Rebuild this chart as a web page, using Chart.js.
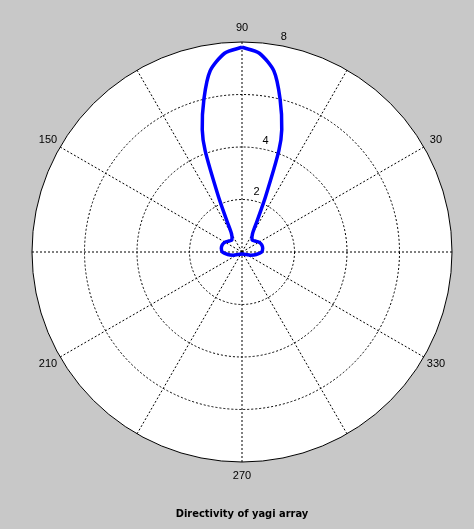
<!DOCTYPE html>
<html><head><meta charset="utf-8">
<script src="https://cdn.jsdelivr.net/npm/chart.js@4/dist/chart.umd.min.js"></script>
<style>html,body{margin:0;padding:0;background:#c8c8c8;}#w{width:474px;height:529px;position:relative}</style>
</head><body><div id="w"><canvas id="c"></canvas></div>
<script>
// offset from 90° (degrees) and directivity values (symmetric pattern)
const offsets = [0,5,10,14,18,20,23,26,30,40,50,60,70,80,90,100,110,120,135,150,165,180];
const directivity = [7.8,7.6,7.0,6.0,4.9,4.1,2.3,1.3,0.8,0.6,0.65,0.75,0.8,0.8,0.75,0.55,0.35,0.2,0.12,0.1,0.08,0.08];
const ringValues = [2,4,6,8];
const ringLabels = ['2','4','','8'];
const spokeAngles = [0,30,60,90,120,150,180,210,240,270,300,330];
const angleLabels = ['0','30','60','90','120','150','180','210','240','270','300','330'];
const shownAngleLabels = ['30','90','150','210','270','330'];
const chartTitle = 'Directivity of yagi array';

const pts = [];
const addPt=(deg,r)=>{const a=deg*Math.PI/180;pts.push({x:r*Math.cos(a),y:r*Math.sin(a)});};
for(let i=0;i<offsets.length;i++) addPt(90+offsets[i],directivity[i]);
for(let i=offsets.length-2;i>=0;i--) addPt(90-offsets[i],directivity[i]);

const polarGrid={id:'polarGrid',
 beforeDatasetsDraw(ch){const c=ch.ctx,xs=ch.scales.x,ys=ch.scales.y;
  const cx=xs.getPixelForValue(0),cy=ys.getPixelForValue(0);
  const R=xs.getPixelForValue(8)-cx;
  c.save();c.fillStyle='#fff';c.beginPath();c.arc(cx,cy,R,0,2*Math.PI);c.fill();
  c.strokeStyle='#000';c.lineWidth=1;c.setLineDash([2,2]);
  ringValues.slice(0,-1).forEach(v=>{c.beginPath();c.arc(cx,cy,xs.getPixelForValue(v)-cx,0,2*Math.PI);c.stroke();});
  spokeAngles.forEach(a=>{const t=a*Math.PI/180;c.beginPath();c.moveTo(cx,cy);c.lineTo(cx+R*Math.cos(t),cy-R*Math.sin(t));c.stroke();});
  c.setLineDash([]);c.beginPath();c.arc(cx,cy,R,0,2*Math.PI);c.stroke();
  c.restore();},
 afterDatasetsDraw(ch){const c=ch.ctx,xs=ch.scales.x,ys=ch.scales.y;
  const cx=xs.getPixelForValue(0),cy=ys.getPixelForValue(0);
  const R=xs.getPixelForValue(8)-cx;
  c.save();c.fillStyle='#000';c.font='11px "Liberation Sans", Arial, sans-serif';c.textAlign='center';c.textBaseline='middle';
  spokeAngles.forEach((a,i)=>{if(!shownAngleLabels.includes(angleLabels[i]))return;const t=a*Math.PI/180;const rr=R+14;
    c.fillText(angleLabels[i],cx+rr*Math.cos(t),cy-rr*Math.sin(t));});
  const la=80*Math.PI/180;
  ringValues.forEach((v,i)=>{if(!ringLabels[i])return;const rr=xs.getPixelForValue(v)-cx+8;
    c.fillText(ringLabels[i],cx+rr*Math.cos(la)+4,cy-rr*Math.sin(la));});
  c.font='bold 11px "Liberation Sans Narrow","DejaVu Sans Condensed",sans-serif';
  c.fillText(chartTitle,cx,514);
  c.restore();}
};
new Chart(document.getElementById('c'),{type:'scatter',
 data:{datasets:[{data:pts,showLine:true,borderColor:'#0000ff',borderWidth:3.5,pointRadius:0,fill:false,tension:0.25,clip:false}]},
 options:{responsive:true,maintainAspectRatio:false,animation:false,
  layout:{padding:{left:32,right:22,top:42,bottom:67}},
  plugins:{legend:{display:false},tooltip:{enabled:false}},
  scales:{x:{type:'linear',min:-8,max:8,display:false},y:{type:'linear',min:-8,max:8,display:false}}},
 plugins:[polarGrid]});
</script></body></html>
